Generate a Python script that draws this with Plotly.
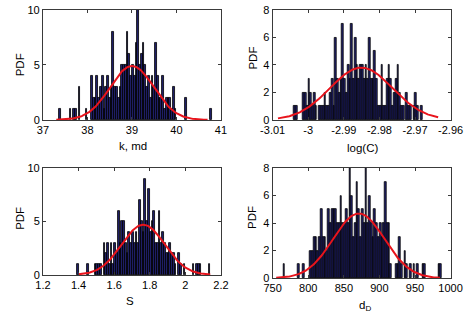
import numpy as np
import plotly.graph_objects as go

# ---------------- data (histogram counts) ----------------
k_start, k_width = 37.34, 0.04
k_counts = [0, 1, 0, 0, 0, 0, 0, 1, 0, 1,
            1, 0, 3, 0, 0, 0, 1, 0, 0, 4,
            2, 2, 4, 2, 3, 4, 1, 3, 4, 2,
            3, 8, 3, 3, 2, 3, 5, 5, 5, 8,
            6, 4, 5, 4, 7, 10, 5, 6, 7, 5,
            3, 4, 2, 4, 3, 7, 4, 2, 2, 4,
            1, 2, 2, 2, 1, 3, 1, 0, 0, 0,
            0, 0, 2, 0, 0, 0, 0, 0, 0, 0,
            0, 0, 0, 0, 0, 0, 1]

c_start, c_width = -3.00375, 0.0005
c_counts = [1, 1, 0, 0, 0, 2, 2, 1, 3, 2,
            1, 2, 1, 0, 1, 1, 1, 2, 1, 1,
            2, 3, 1, 6, 3, 2, 3, 7, 3, 2,
            4, 3, 7, 3, 6, 4, 3, 4, 4, 3,
            4, 3, 6, 3, 3, 5, 3, 1, 1, 4,
            1, 1, 3, 4, 3, 1, 2, 3, 4, 2,
            1, 1, 0, 2, 1, 1, 0, 1, 2, 1,
            0, 1]

s_start, s_width = 1.395, 0.01
s_counts = [1, 0, 0, 0, 0, 0, 1, 0, 0, 0,
            1, 1, 1, 1, 0, 3, 2, 3, 1, 3,
            1, 3, 2, 6, 3, 5, 5, 3, 2, 4,
            3, 4, 3, 4, 3, 7, 5, 4, 9, 5,
            8, 4, 5, 6, 3, 3, 6, 3, 4, 3,
            2, 2, 3, 2, 2, 1, 0, 2, 1, 0,
            1, 0, 0, 0, 0, 1, 0, 1, 1, 1,
            0, 0, 0, 0, 1]

d_start, d_width = 766.25, 2.5
d_counts = [1, 0, 0, 0, 0, 0, 0, 0, 1, 0,
            0, 1, 0, 0, 0, 2, 2, 3, 3, 2,
            3, 5, 3, 3, 2, 5, 4, 5, 5, 5,
            4, 4, 6, 4, 4, 5, 4, 8, 6, 3,
            4, 7, 5, 3, 5, 4, 8, 4, 6, 4,
            3, 5, 4, 3, 4, 3, 4, 7, 4, 4,
            1, 0, 0, 1, 1, 3, 1, 0, 2, 1,
            0, 1, 0, 1, 0, 1, 0, 0, 1, 1,
            0, 0, 0, 0, 0, 0, 0, 1, 1, 0]

# fitted normal curves: (mean, sd, peak height, x from, x to)
k_fit = (39.0, 0.49, 4.9, 37.3, 40.7)
c_fit = (-2.9851, 0.0088, 3.8, -3.0085, -2.9635)
s_fit = (1.763, 0.121, 4.7, 1.40, 2.14)
d_fit = (871.0, 36.0, 4.7, 755.0, 985.0)

# axis ticks / labels
k_ticks = [37, 38, 39, 40, 41]
c_ticks = [-3.01, -3.0, -2.99, -2.98, -2.97, -2.96]
c_ticktext = ["-3.01", "-3", "-2.99", "-2.98", "-2.97", "-2.96"]
s_ticks = [1.2, 1.4, 1.6, 1.8, 2.0, 2.2]
s_ticktext = ["1.2", "1.4", "1.6", "1.8", "2", "2.2"]
d_ticks = [750, 800, 850, 900, 950, 1000]

# ---------------- figure ----------------
W, H = 474, 322
FONT = "Liberation Sans, Arial, Helvetica, sans-serif"
BAR_FILL = "#20206a"
AX_COL = "#3a3a3a"

fig = go.Figure()

panels = [
    dict(counts=k_counts, start=k_start, width=k_width, fit=k_fit, xr=[37, 41],
         xt=k_ticks, xtt=[str(v) for v in k_ticks], yr=[0, 10], yt=[0, 5, 10],
         box=(31.7, 220, 4, 118.3)),
    dict(counts=c_counts, start=c_start, width=c_width, fit=c_fit, xr=[-3.01, -2.96],
         xt=c_ticks, xtt=c_ticktext, yr=[0, 8], yt=[0, 2, 4, 6, 8],
         box=(274.7, 463, 4, 118.3)),
    dict(counts=s_counts, start=s_start, width=s_width, fit=s_fit, xr=[1.2, 2.2],
         xt=s_ticks, xtt=s_ticktext, yr=[0, 10], yt=[0, 5, 10],
         box=(31.7, 220, 168.3, 279.3)),
    dict(counts=d_counts, start=d_start, width=d_width, fit=d_fit, xr=[750, 1000],
         xt=d_ticks, xtt=[str(v) for v in d_ticks], yr=[0, 8], yt=[0, 2, 4, 6, 8],
         box=(274.7, 463, 168.3, 282.7)),
]

layout_axes = {}
for i, p in enumerate(panels, start=1):
    xa = "x" if i == 1 else f"x{i}"
    ya = "y" if i == 1 else f"y{i}"
    counts = np.array(p["counts"], dtype=float)
    centers = p["start"] + p["width"] * np.arange(len(counts))
    nz = counts > 0
    fig.add_trace(go.Bar(
        x=centers[nz], y=counts[nz], width=p["width"],
        marker=dict(color=BAR_FILL, line=dict(color="black", width=0.8)),
        xaxis=xa, yaxis=ya, showlegend=False, hoverinfo="skip"))
    mu, sd, peak, lo, hi = p["fit"]
    xs = np.linspace(lo, hi, 200)
    ys = peak * np.exp(-0.5 * ((xs - mu) / sd) ** 2)
    fig.add_trace(go.Scatter(
        x=xs, y=ys, mode="lines", line=dict(color="#e8141c", width=2),
        xaxis=xa, yaxis=ya, showlegend=False, hoverinfo="skip"))

    x0, x1, y0, y1 = p["box"]
    common = dict(showline=True, linecolor=AX_COL, linewidth=1, mirror="ticks",
                  ticks="inside", ticklen=3, tickcolor=AX_COL, showgrid=False,
                  zeroline=False, tickfont=dict(family=FONT, size=11, color="black"))
    layout_axes["xaxis" if i == 1 else f"xaxis{i}"] = dict(
        domain=[x0 / W, x1 / W], range=p["xr"], tickmode="array",
        tickvals=p["xt"], ticktext=p["xtt"], anchor=ya, **common)
    layout_axes["yaxis" if i == 1 else f"yaxis{i}"] = dict(
        domain=[1 - y1 / H, 1 - y0 / H], range=p["yr"], tickmode="array",
        tickvals=p["yt"], ticktext=[str(v) for v in p["yt"]], anchor=xa, **common)

fig.update_layout(**layout_axes)

titles = [
    ("PDF", 7, 61, 270),
    ("PDF", 253.5, 54, 270),
    ("PDF", 7.5, 221, 270),
    ("PDF", 253, 220, 270),
    ("k, md", 126.7, 145, 0),
    ("log(C)", 370.3, 147.5, 0),
    ("S", 124, 306.7, 0),
    ("d<sub>D</sub>", 372, 312, 0),
]
for text, px, py, rot in titles:
    fig.add_annotation(text=text, x=px / W, y=1 - py / H, xref="paper", yref="paper",
                       showarrow=False, textangle=rot, xanchor="center", yanchor="middle",
                       font=dict(family=FONT, size=11.5, color="black"))

fig.update_layout(
    width=W, height=H, margin=dict(l=0, r=0, t=0, b=0),
    paper_bgcolor="white", plot_bgcolor="white", bargap=0, barmode="overlay",
)

fig.write_html("out.html")
